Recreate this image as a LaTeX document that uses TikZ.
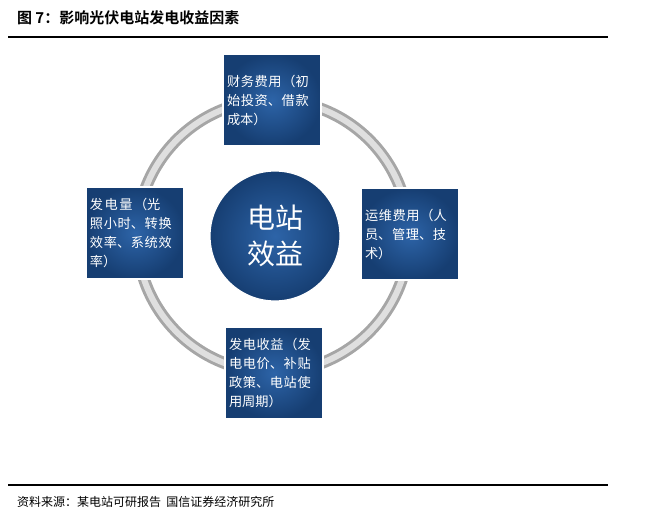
\documentclass[tikz,border=0pt]{standalone}
\usepackage{fontspec}
\setmainfont{Noto Sans CJK SC}
\newfontfamily\cjkb{Noto Sans CJK SC Bold}
\XeTeXlinebreaklocale "zh"
\XeTeXlinebreakskip=0pt plus 1pt
\usetikzlibrary{shadings}
\definecolor{bxdark}{HTML}{163E72}
\definecolor{bxlight}{HTML}{2D64A8}
\tikzset{
 infobox/.style={draw=white, line width=0.6pt, inner color=bxlight, outer color=bxdark, minimum width=49pt, minimum height=46pt, text width=45pt, align=left, font=\fontsize{6.6}{9.5}\selectfont, text=white, inner sep=2pt},
}
\begin{document}
\begin{tikzpicture}[x=0.5pt,y=-0.5pt]
\useasboundingbox (0,0) rectangle (660,519);
\node[anchor=west, font=\cjkb\fontsize{7.5}{9}\selectfont] (title) at (10,18) {图 7：影响光伏电站发电收益因素};
\draw[line width=0.6pt] (8,37) -- (608,37);
% ring
\coordinate (c) at (273,236);
\draw[line width=6pt, color=gray!70] (c) circle[radius=68pt];
\draw[line width=3pt, color=gray!25] (c) circle[radius=68pt];
\node[circle, minimum size=65pt, inner color=bxlight, outer color=bxdark, draw=white, line width=0.6pt, text=white, font=\fontsize{14}{18}\selectfont, align=center] (center) at (275,236) {电站\\效益};
\node[infobox] (top) at (272,100) {财务费用（初始投资、借款成本）};
\node[infobox] (left) at (135,233) {发电量（光照小时、转换效率、系统效率）};
\node[infobox] (right) at (410,234) {运维费用（人员、管理、技术）};
\node[infobox] (bottom) at (274,373) {发电收益（发电电价、补贴政策、电站使用周期）};
\draw[line width=0.6pt] (8,485) -- (608,485);
\node[anchor=west, font=\fontsize{6}{8}\selectfont] (src) at (10,502) {资料来源：某电站可研报告 \ 国信证券经济研究所};
\end{tikzpicture}
\end{document}
